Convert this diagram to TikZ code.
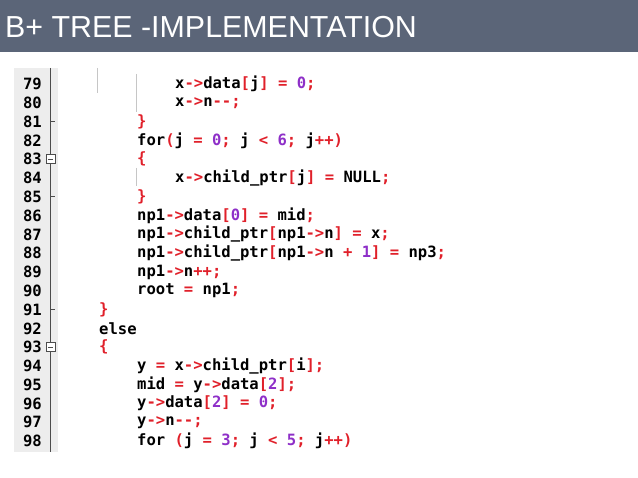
\documentclass[tikz,border=0pt]{standalone}
\usepackage{fontspec}
\setmainfont{Liberation Sans}
\setmonofont{DejaVu Sans Mono}
\definecolor{bar}{HTML}{5B6578}
\definecolor{cr}{HTML}{E0202A}
\definecolor{cp}{HTML}{8E2FC8}
\definecolor{gut}{HTML}{EDEDED}
\newcommand\Rd[1]{\textcolor{cr}{#1}}
\newcommand\Pu[1]{\textcolor{cp}{#1}}
\tikzset{cl/.style={anchor=west,inner sep=0pt,font=\ttfamily\bfseries\fontsize{15.6}{18}\selectfont},
 ln/.style={anchor=east,inner sep=0pt,font=\ttfamily\bfseries\fontsize{15.6}{18}\selectfont},
 guide/.style={draw=gray!45,line width=0.6pt}}
\begin{document}
\begin{tikzpicture}[x=1bp,y=-1bp]
\useasboundingbox (0,0) rectangle (638,478);
\fill[bar] (0,0) rectangle (638,52);
\node[anchor=west,text=white,font=\fontsize{30.5}{34}\selectfont,inner sep=0pt] (title) at (5,27) {B+ TREE -IMPLEMENTATION};
\fill[gut] (14,68) rectangle (58,452);
\draw[black!70,line width=0.7pt] (50,68) -- (50,452);
\foreach \n [count=\i from 0] in {79,...,98}{
  \node[ln] (n\n) at (42,{84+18.8*\i}) {\n};
}
% fold markers
\foreach \n in {81,85,91}{\draw[black!70,line width=0.7pt] (50,{84+18.8*(\n-79)}) -- (55,{84+18.8*(\n-79)});}
\foreach \n in {83,93}{\filldraw[fill=white,draw=black!70,line width=0.7pt] (46,{84+18.8*(\n-79)-4.5}) rectangle (55,{84+18.8*(\n-79)+4.5});
 \draw[black!70,line width=0.7pt] (48,{84+18.8*(\n-79)}) -- (53,{84+18.8*(\n-79)});}
% indent guides
\draw[guide] (97,68) -- (97,93);
\draw[guide] (136,74) -- (136,112);
\draw[guide] (136,168) -- (136,186);
\newcommand\Y[1]{84+18.8*(#1-79)}
\node[cl] (c79) at (175,{\Y{79}}) {x\Rd{->}data\Rd{[}j\Rd{]} \Rd{=} \Pu{0}\Rd{;}};
\node[cl] (c80) at (175,{\Y{80}}) {x\Rd{->}n\Rd{-{}-;}};
\node[cl] (c81) at (137,{\Y{81}}) {\Rd{\}}};
\node[cl] (c82) at (137,{\Y{82}}) {for\Rd{(}j \Rd{=} \Pu{0}\Rd{;} j \Rd{<} \Pu{6}\Rd{;} j\Rd{++)}};
\node[cl] (c83) at (137,{\Y{83}}) {\Rd{\{}};
\node[cl] (c84) at (175,{\Y{84}}) {x\Rd{->}child\_ptr\Rd{[}j\Rd{]} \Rd{=} NULL\Rd{;}};
\node[cl] (c85) at (137,{\Y{85}}) {\Rd{\}}};
\node[cl] (c86) at (137,{\Y{86}}) {np1\Rd{->}data\Rd{[}\Pu{0}\Rd{]} \Rd{=} mid\Rd{;}};
\node[cl] (c87) at (137,{\Y{87}}) {np1\Rd{->}child\_ptr\Rd{[}np1\Rd{->}n\Rd{]} \Rd{=} x\Rd{;}};
\node[cl] (c88) at (137,{\Y{88}}) {np1\Rd{->}child\_ptr\Rd{[}np1\Rd{->}n \Rd{+} \Pu{1}\Rd{]} \Rd{=} np3\Rd{;}};
\node[cl] (c89) at (137,{\Y{89}}) {np1\Rd{->}n\Rd{++;}};
\node[cl] (c90) at (137,{\Y{90}}) {root \Rd{=} np1\Rd{;}};
\node[cl] (c91) at (99,{\Y{91}}) {\Rd{\}}};
\node[cl] (c92) at (99,{\Y{92}}) {else};
\node[cl] (c93) at (99,{\Y{93}}) {\Rd{\{}};
\node[cl] (c94) at (137,{\Y{94}}) {y \Rd{=} x\Rd{->}child\_ptr\Rd{[}i\Rd{];}};
\node[cl] (c95) at (137,{\Y{95}}) {mid \Rd{=} y\Rd{->}data\Rd{[}\Pu{2}\Rd{];}};
\node[cl] (c96) at (137,{\Y{96}}) {y\Rd{->}data\Rd{[}\Pu{2}\Rd{]} \Rd{=} \Pu{0}\Rd{;}};
\node[cl] (c97) at (137,{\Y{97}}) {y\Rd{->}n\Rd{-{}-;}};
\node[cl] (c98) at (137,{\Y{98}}) {for \Rd{(}j \Rd{=} \Pu{3}\Rd{;} j \Rd{<} \Pu{5}\Rd{;} j\Rd{++)}};
\end{tikzpicture}
\end{document}
